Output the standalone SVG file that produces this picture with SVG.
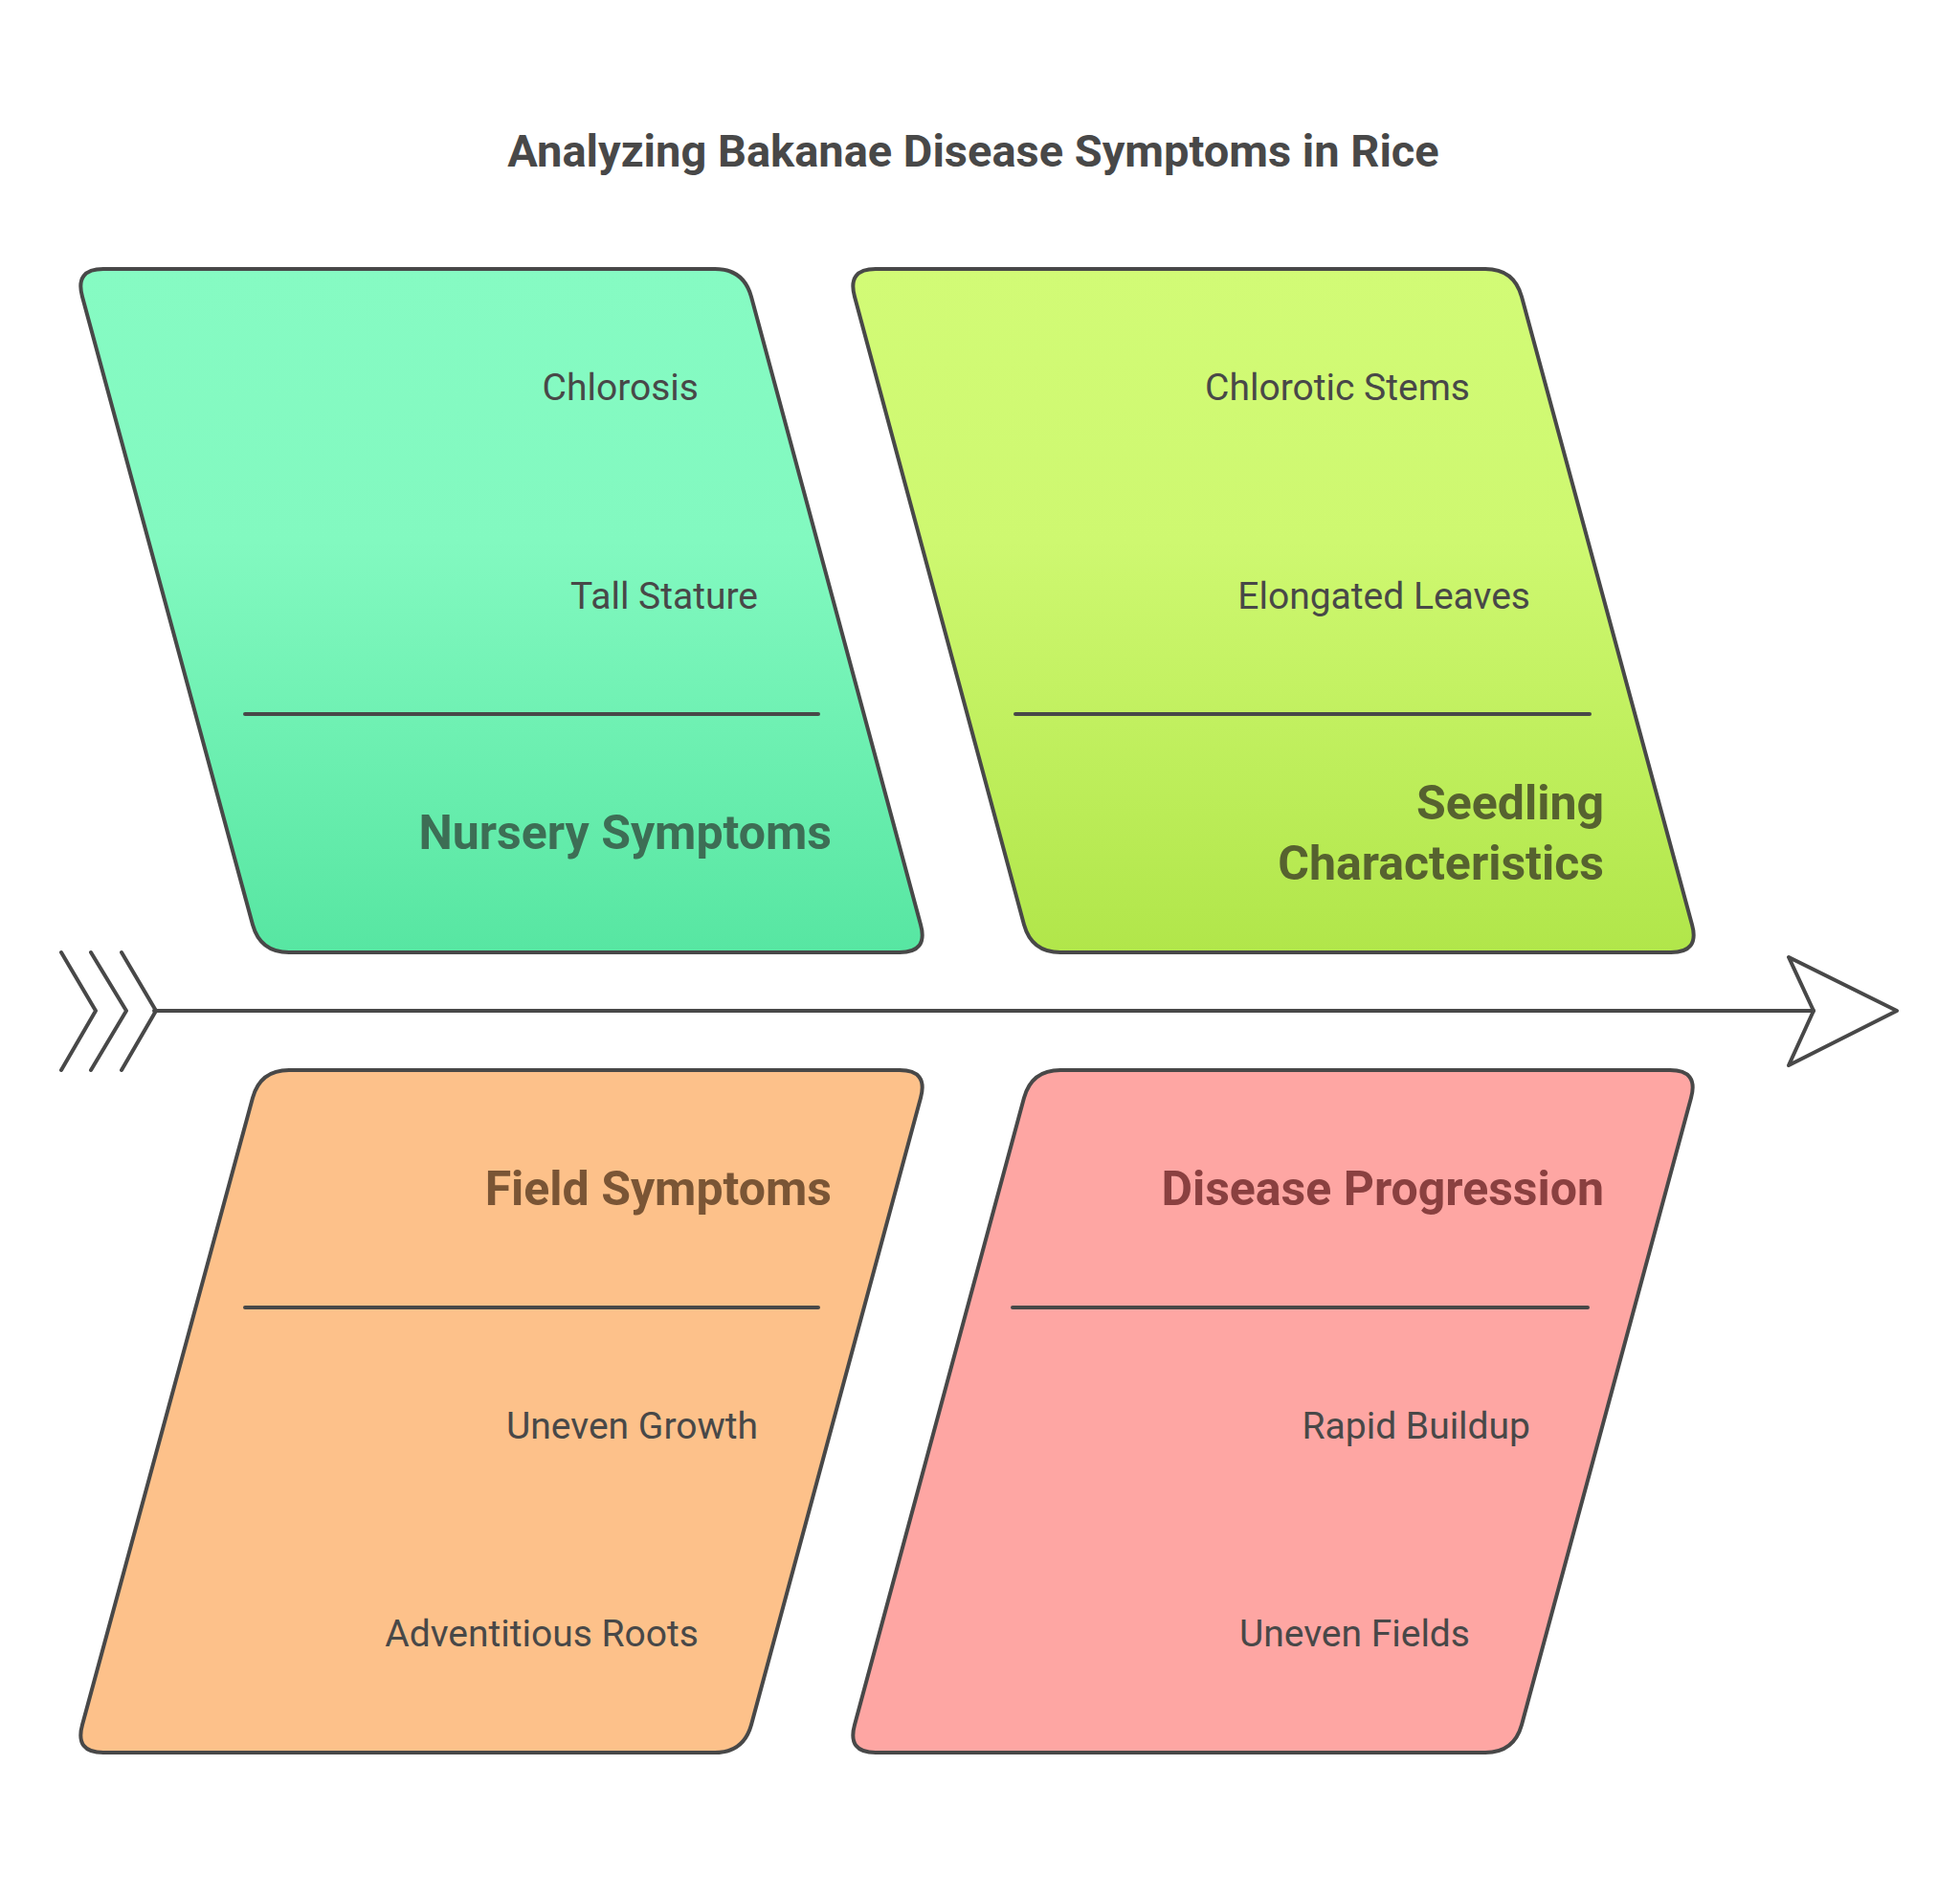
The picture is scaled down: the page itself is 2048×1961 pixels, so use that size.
<svg xmlns="http://www.w3.org/2000/svg" width="2048" height="1961" viewBox="0 0 2048 1961">
<style>
.box{stroke:#484848;stroke-width:4;stroke-linejoin:round}
.div{stroke:#484848;stroke-width:4;stroke-linecap:round}
.item{font-family:Roboto,"Liberation Sans",sans-serif;font-size:39px;fill:#484848;text-anchor:end}
.head{font-family:Roboto,"Liberation Sans",sans-serif;font-size:50px;font-weight:bold;text-anchor:end}
.ax{stroke:#484848;stroke-width:4;fill:none;stroke-linecap:round;stroke-linejoin:round}
</style>
<defs>
<linearGradient id="gG" x1="0" y1="0" x2="0" y2="1"><stop offset="0" stop-color="#86FBC3"/><stop offset="0.4" stop-color="#82F9C0"/><stop offset="1" stop-color="#57E6A2"/></linearGradient>
<linearGradient id="gL" x1="0" y1="0" x2="0" y2="1"><stop offset="0" stop-color="#D2FB76"/><stop offset="0.4" stop-color="#CEF870"/><stop offset="1" stop-color="#B1E64A"/></linearGradient>
</defs>
<rect width="2048" height="1961" fill="#fff"/>
<text x="1017" y="174" text-anchor="middle" font-family="Roboto,'Liberation Sans',sans-serif" font-size="47" font-weight="bold" fill="#484848">Analyzing Bakanae Disease Symptoms in Rice</text>
<g id="connectors">
<line class="ax" x1="161" y1="1056" x2="1895" y2="1056"/>
<path class="ax" d="M1869,1000 L1982,1056 L1869,1113 L1895,1056 Z" fill="#fff"/>
<path class="ax" d="M64,995 L100,1056 L64,1118 M95,995 L132,1056 L95,1118 M127,995 L163,1056 L127,1118"/>
</g>
<g id="nursery">
<path class="box" fill="url(#gG)" d="M108,281 L747,281 Q777,281 785,310 L962,966 Q970,995 940,995 L302,995 Q272,995 264,966 L86,310 Q78,281 108,281Z"/>
<line class="div" x1="256" y1="746" x2="855" y2="746"/>
<text class="item" x="730" y="418">Chlorosis</text>
<text class="item" x="792" y="636">Tall Stature</text>
<text class="head" x="869" y="887" fill="#3D6E55">Nursery Symptoms</text>
</g>
<g id="seedling">
<path class="box" fill="url(#gL)" d="M915,281 L1552,281 Q1582,281 1590,310 L1768,966 Q1776,995 1746,995 L1108,995 Q1078,995 1070,966 L893,310 Q885,281 915,281Z"/>
<line class="div" x1="1061" y1="746" x2="1661" y2="746"/>
<text class="item" x="1536" y="418">Chlorotic Stems</text>
<text class="item" x="1599" y="636">Elongated Leaves</text>
<text class="head" x="1676" y="856" fill="#56622F">Seedling</text>
<text class="head" x="1676" y="919" fill="#56622F">Characteristics</text>
</g>
<g id="field">
<path class="box" fill="#FDC18A" d="M302,1118 L940,1118 Q970,1118 962,1147 L785,1802 Q777,1831 747,1831 L108,1831 Q78,1831 86,1802 L264,1147 Q272,1118 302,1118Z"/>
<line class="div" x1="256" y1="1366" x2="855" y2="1366"/>
<text class="head" x="869" y="1259" fill="#7A5535">Field Symptoms</text>
<text class="item" x="792" y="1503">Uneven Growth</text>
<text class="item" x="730" y="1720">Adventitious Roots</text>
</g>
<g id="progression">
<path class="box" fill="#FEA6A3" d="M1108,1118 L1745,1118 Q1775,1118 1767,1147 L1590,1802 Q1582,1831 1552,1831 L915,1831 Q885,1831 893,1802 L1070,1147 Q1078,1118 1108,1118Z"/>
<line class="div" x1="1058" y1="1366" x2="1659" y2="1366"/>
<text class="head" x="1676" y="1259" fill="#8A4040">Disease Progression</text>
<text class="item" x="1599" y="1503">Rapid Buildup</text>
<text class="item" x="1536" y="1720">Uneven Fields</text>
</g>
</svg>
